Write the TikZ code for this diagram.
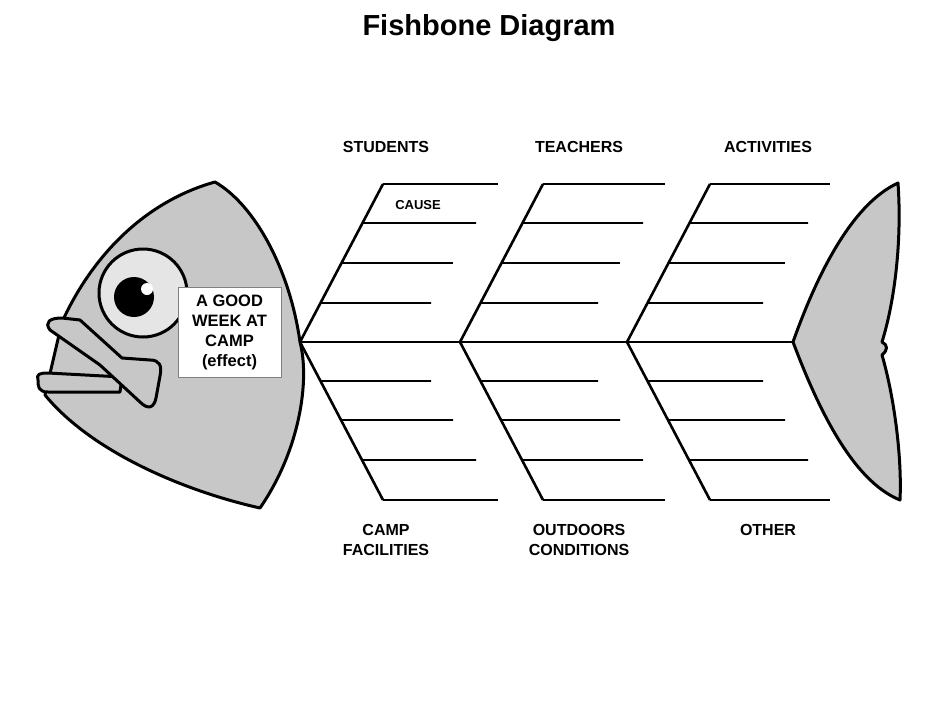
\documentclass[tikz,border=0pt]{standalone}
\usepackage{fontspec}
\setmainfont{Liberation Sans}
\usetikzlibrary{positioning,calc}

\begin{document}
\begin{tikzpicture}[x=1pt,y=-1pt,line join=round,
  bone/.style={line width=2.6pt},
  rib/.style={line width=1.6pt},
  fishpart/.style={fill=black!22,draw,line width=3pt},
  cat label/.style={font=\bfseries\fontsize{16}{20}\selectfont,align=center}]
  \useasboundingbox (0,0) rectangle (950,725);

  \node[font=\bfseries\fontsize{29}{32}\selectfont] (title) at (489,28) {Fishbone Diagram};

  % head
  \draw[fishpart] (215,182) .. controls (150,200) and (95,250) .. (62,322)
    -- (45,395) .. controls (90,450) and (180,490) .. (260,508)
    .. controls (300,450) and (310,380) .. (300,342)
    .. controls (290,270) and (255,205) .. (215,182) -- cycle;
  % lips
  \draw[fishpart] (38,380) .. controls (36,374) and (40,373) .. (48,373)
    -- (122,377) -- (120,392) -- (48,392) .. controls (38,392) and (38,386) .. (38,380) -- cycle;
  \draw[fishpart] (50,330) .. controls (44,322) and (50,318) .. (62,318)
    -- (80,320) -- (122,358) -- (150,360) .. controls (160,360) and (162,366) .. (160,376)
    -- (156,398) .. controls (154,408) and (148,410) .. (140,402) -- (100,365) -- cycle;
  % eye
  \draw[fill=black!10,line width=3pt] (143,293) circle (44);
  \fill (134,297) circle (20);
  \fill[white] (147,289) circle (6);

  \node[draw=black!50,fill=white,minimum width=103,minimum height=90,align=center,
    font=\bfseries\fontsize{16.5}{20}\selectfont] (effect) at (229.5,332)
    {A GOOD\\WEEK AT\\CAMP\\(effect)};

  % tail
  \draw[fishpart] (793,342) .. controls (815,280) and (850,205) .. (898,183)
    .. controls (902,240) and (895,300) .. (882,342)
    .. controls (888,345) and (888,350) .. (882,355)
    .. controls (895,400) and (902,460) .. (900,500)
    .. controls (850,480) and (815,400) .. (793,342) -- cycle;

  % spine and bones
  \coordinate (spine start) at (300,342);
  \coordinate (spine end) at (793,342);
  \draw[bone] (spine start) -- (spine end);
  \foreach \x/\e [count=\i] in {300/498,460/665,627/830} {
    \coordinate (up\i) at (\x+83,184);
    \coordinate (dn\i) at (\x+83,500);
    \coordinate (root\i) at (\x,342);
    \draw[bone] (root\i) -- (up\i);
    \draw[bone] (root\i) -- (dn\i);
    \foreach \y/\d in {184/0,223/22,263/45,303/67} {
      \draw[rib] ($(root\i)!{(342-\y)/158}!(up\i)$) -- (\e-\d,\y);
      \draw[rib] ($(root\i)!{(\y-145)/158}!(dn\i)$) -- (\e-67+\d,\y+197);
    }
  }

  \node[cat label] (students) at (386,147) {STUDENTS};
  \node[cat label] (teachers) at (579,147) {TEACHERS};
  \node[cat label] (activities) at (768,147) {ACTIVITIES};
  \node[cat label] (camp) at (386,540) {CAMP\\FACILITIES};
  \node[cat label] (outdoors) at (579,540) {OUTDOORS\\CONDITIONS};
  \node[cat label] (other) at (768,530) {OTHER};
  \node[font=\bfseries\fontsize{13}{15}\selectfont] (cause) at (418,205) {CAUSE};
\end{tikzpicture}
\end{document}
